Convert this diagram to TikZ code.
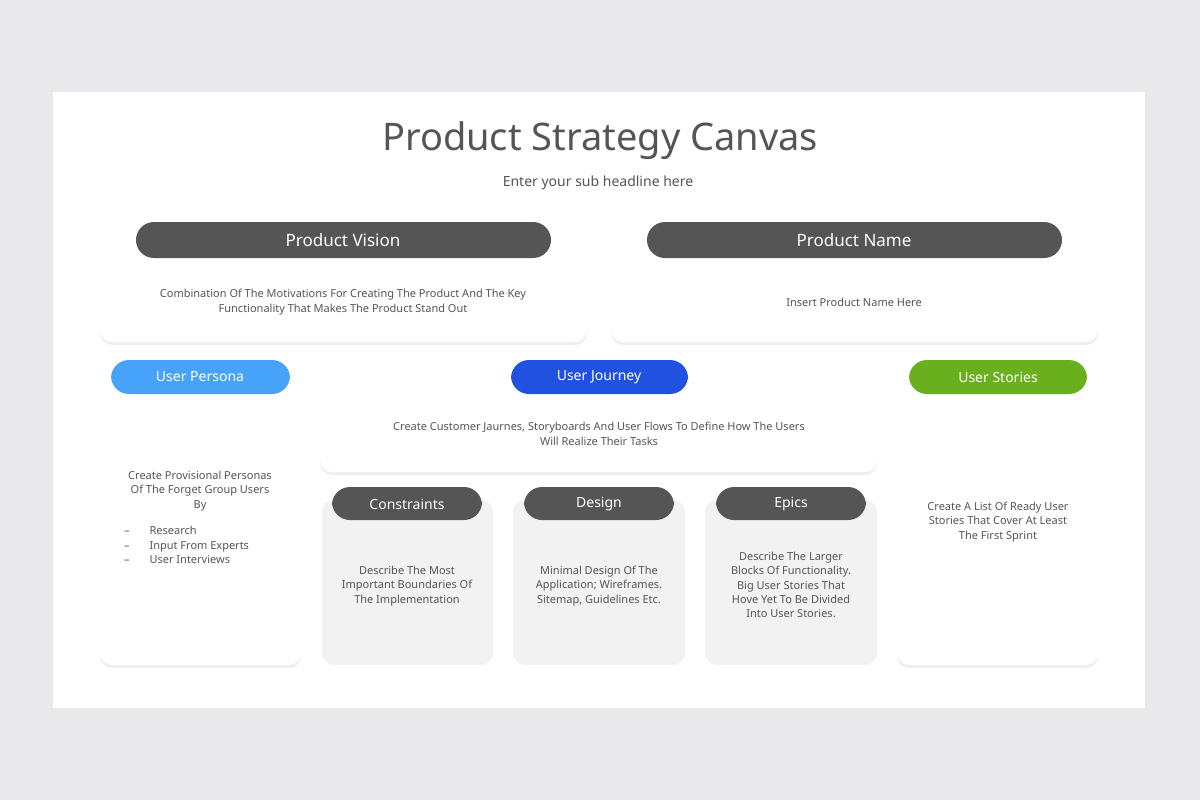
\documentclass[tikz,border=0pt]{standalone}
\usepackage{fontspec}
\setmainfont{Noto Sans}
\usetikzlibrary{shadows}
\definecolor{bg}{HTML}{E9E8EA}
\definecolor{dk}{HTML}{555555}
\definecolor{tx}{HTML}{555555}
\definecolor{lb}{HTML}{47A3F9}
\definecolor{db}{HTML}{2151E0}
\definecolor{gr}{HTML}{6AAF1E}
\definecolor{lg}{HTML}{F2F2F2}
\tikzset{
 card/.style={fill=white,rounded corners=6pt,drop shadow={shadow xshift=0pt,shadow yshift=-1.5pt,opacity=0.12}},
 gcard/.style={fill=lg,rounded corners=6pt},
 pill/.style={rounded corners=9pt,text=white,font=\bfseries\fontsize{8.5}{10}\selectfont},
 body/.style={text=tx,font=\fontsize{5.5}{7.2}\selectfont,align=center},
}
\begin{document}
\begin{tikzpicture}[x=0.5pt,y=-0.5pt]
\fill[bg] (0,0) rectangle (1200,800);
\useasboundingbox (0,0) rectangle (1200,800);
\fill[white] (53,92) rectangle (1145,708);
\node[text=tx,font=\fontsize{19}{22}\selectfont] (title) at (600,141) {Product Strategy Canvas};
\node[text=tx,font=\fontsize{7}{8}\selectfont] (sub) at (598,183) {Enter your sub headline here};
% top cards
\path[card] (100,237) rectangle (587,342);
\path[card] (611,237) rectangle (1098,342);
\fill[dk,rounded corners=9pt] (136,222) rectangle (551,258);
\node[pill] (pv) at (343,240) {Product Vision};
\fill[dk,rounded corners=9pt] (647,222) rectangle (1062,258);
\node[pill] (pn) at (854,240) {Product Name};
\node[body] (pvt) at (343,302) {Combination Of The Motivations For Creating The Product And The Key\\Functionality That Makes The Product Stand Out};
\node[body] (pnt) at (854,302) {Insert Product Name Here};
% side cards
\path[card] (100,373) rectangle (301,665);
\path[card] (320,373) rectangle (877,472);
\path[card] (897,373) rectangle (1098,665);
\fill[lb,rounded corners=9pt] (111,360) rectangle (290,394);
\node[pill,font=\bfseries\fontsize{7}{8}\selectfont] (up) at (200,377) {User Persona};
\fill[db,rounded corners=9pt] (511,360) rectangle (688,394);
\node[pill,font=\bfseries\fontsize{7}{8}\selectfont] (uj) at (599,377) {User Journey};
\fill[gr,rounded corners=9pt] (909,360) rectangle (1087,394);
\node[pill,font=\bfseries\fontsize{7}{8}\selectfont] (us) at (998,377) {User Stories};
\node[body] (upt) at (200,491) {Create Provisional Personas\\Of The Forget Group Users\\By};
\node[body,align=left,anchor=west] (upl) at (117,545) {–\hspace{10pt}Research\\–\hspace{10pt}Input From Experts\\–\hspace{10pt}User Interviews};
\node[body] (ujt) at (599,434) {Create Customer Jaurnes, Storyboards And User Flows To Define How The Users\\Will Realize Their Tasks};
\node[body] (ust) at (998,522) {Create A List Of Ready User\\Stories That Cover At Least\\The First Sprint};
% grey cards
\fill[gcard] (322,500) rectangle (493,665);
\fill[gcard] (513,500) rectangle (685,665);
\fill[gcard] (705,500) rectangle (877,665);
\fill[dk,rounded corners=9pt] (332,487) rectangle (482,520);
\node[pill,font=\bfseries\fontsize{7}{8}\selectfont] (c) at (407,504) {Constraints};
\fill[dk,rounded corners=9pt] (524,487) rectangle (674,520);
\node[pill,font=\bfseries\fontsize{7}{8}\selectfont] (d) at (599,504) {Design};
\fill[dk,rounded corners=9pt] (716,487) rectangle (866,520);
\node[pill,font=\bfseries\fontsize{7}{8}\selectfont] (e) at (791,504) {Epics};
\node[body] (ct) at (407,586) {Describe The Most\\Important Boundaries Of\\The Implementation};
\node[body] (dt) at (599,586) {Minimal Design Of The\\Application; Wireframes.\\Sitemap, Guidelines Etc.};
\node[body] (et) at (791,585) {Describe The Larger\\Blocks Of Functionality.\\Big User Stories That\\Hove Yet To Be Divided\\Into User Stories.};
\end{tikzpicture}
\end{document}
